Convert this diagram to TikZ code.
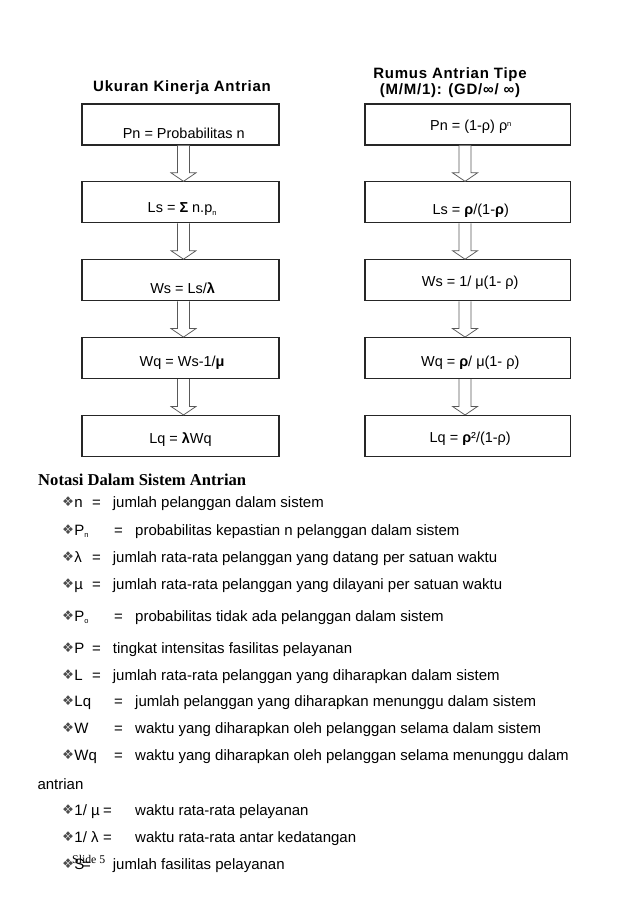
\documentclass[tikz,border=0pt]{standalone}
\usepackage{fontspec}
\setmainfont{Liberation Sans}
\newfontfamily\serifrm{Liberation Serif}
\newfontfamily\symfont{DejaVu Sans}
\usepackage{tikz}
\usetikzlibrary{positioning,calc}

\definecolor{bulgray}{gray}{0.3}
\newcommand{\bul}{\raisebox{0.2pt}{\symfont\fontsize{12.5}{12.5}\selectfont\color{bulgray}❖}\hspace{0.2pt}}
\newcommand{\lowsub}[1]{\raisebox{-2.5pt}{\fontsize{7}{7}\selectfont #1}}
\newcommand{\highsup}[1]{\raisebox{4.5pt}{\fontsize{7}{7}\selectfont #1}}
\newcommand{\boxtext}[3]{\raisebox{-#2}[\height][\depth]{\hspace*{#1}#3\hspace*{-#1}}}

\begin{document}
\begin{tikzpicture}[x=0.9335pt,y=-0.9335pt,
  box/.style={draw=black!85, line width=1pt, minimum height=38.3pt, inner sep=0pt,
    font=\fontsize{13.5}{15}\selectfont},
  lbox/.style={box, minimum width=183.9pt},
  rbox/.style={box, minimum width=191.4pt},
  blockarr/.style={draw=black!65, line width=0.7pt, fill=white},
  ttl/.style={inner sep=0pt, font=\bfseries\fontsize{14}{15}\selectfont\addfontfeature{LetterSpace=5}},
  term/.style={anchor=base west, inner sep=0pt, font=\fontsize{14}{16}\selectfont},
  slide/.style={anchor=base west, inner sep=0pt, font=\serifrm\fontsize{11}{11}\selectfont}]

  \useasboundingbox (0,0) rectangle (638,903);

  % left column
  \node[lbox] (l1) at (180.5,124.5) {\boxtext{3pt}{8pt}{Pn = Probabilitas n}};
  \node[lbox] (l2) [below=33.4pt of l1] {\boxtext{1.5pt}{6.5pt}{Ls = \textbf{Σ} n.p\lowsub{n}}};
  \node[lbox] (l3) [below=33.4pt of l2] {\boxtext{2pt}{7pt}{Ws = Ls/\textbf{λ}}};
  \node[lbox] (l4) [below=33.4pt of l3] {\boxtext{1.5pt}{4pt}{Wq = Ws-1/\textbf{μ}}};
  \node[lbox] (l5) [below=33.4pt of l4] {\boxtext{0pt}{3pt}{Lq = \textbf{λ}Wq}};

  % right column
  \node[rbox] (r1) [right=79.3pt of l1] {\boxtext{3pt}{2.5pt}{Pn = (1-ρ) ρ\highsup{n}}};
  \node[rbox] (r2) [below=33.4pt of r1] {\boxtext{3pt}{7.5pt}{Ls = \textbf{ρ}/(1-\textbf{ρ})}};
  \node[rbox] (r3) [below=33.4pt of r2] {\boxtext{2.5pt}{2.5pt}{Ws = 1/ μ(1- ρ)}};
  \node[rbox] (r4) [below=33.4pt of r3] {\boxtext{2.5pt}{4pt}{Wq = \textbf{ρ}/ μ(1- ρ)}};
  \node[rbox] (r5) [below=33.4pt of r4] {\boxtext{2.5pt}{3pt}{Lq = \textbf{ρ}²/(1-ρ)}};

  \node[ttl, anchor=base] (tl) at (182,92) {Ukuran Kinerja Antrian};
  \node[ttl, anchor=south, align=center] (tr) at (450,98) {Rumus Antrian Tipe\\(M/M/1): (GD/∞/ ∞)};

  \foreach \a/\b/\dx in {l1/l2/3, l2/l3/3, l3/l4/3, l4/l5/3,
                         r1/r2/-2.5, r2/r3/-2.5, r3/r4/-2.5, r4/r5/-2.5}
    \draw[blockarr] ($(\a.south)+(\dx-6,0)$) -- ($(\b.north)+(\dx-6,-8.5)$)
      -- ($(\b.north)+(\dx-12.5,-8.5)$) -- ($(\b.north)+(\dx,0)$)
      -- ($(\b.north)+(\dx+12.5,-8.5)$) -- ($(\b.north)+(\dx+6,-8.5)$)
      -- ($(\a.south)+(\dx+6,0)$);

  % notasi
  \node[anchor=base west, inner sep=0pt, font=\serifrm\bfseries\fontsize{15.5}{18}\selectfont] (hd) at (38,485) {Notasi Dalam Sistem Antrian};

  \node[term] (s1) at (62,507) {\bul n};
  \node[term] (e1) at (92,507) {=};
  \node[term] (k1) at (112.7,507) {jumlah pelanggan dalam sistem};
  \node[term] (s2) at (62,535) {\bul P\lowsub{n}};
  \node[term] (e2) at (114,535) {=};
  \node[term] (k2) at (135,535) {probabilitas kepastian n pelanggan dalam sistem};
  \node[term] (s3) at (62,562) {\bul λ};
  \node[term] (e3) at (92,562) {=};
  \node[term] (k3) at (112.7,562) {jumlah rata-rata pelanggan yang datang per satuan waktu};
  \node[term] (s4) at (62,589) {\bul µ};
  \node[term] (e4) at (92,589) {=};
  \node[term] (k4) at (112.7,589) {jumlah rata-rata pelanggan yang dilayani per satuan waktu};
  \node[term] (s5) at (62,621) {\bul P\lowsub{o}};
  \node[term] (e5) at (114,621) {=};
  \node[term] (k5) at (135,621) {probabilitas tidak ada pelanggan dalam sistem};
  \node[term] (s6) at (62,653) {\bul P};
  \node[term] (e6) at (92,653) {=};
  \node[term] (k6) at (112.7,653) {tingkat intensitas fasilitas pelayanan};
  \node[term] (s7) at (62,680) {\bul L};
  \node[term] (e7) at (92,680) {=};
  \node[term] (k7) at (112.7,680) {jumlah rata-rata pelanggan yang diharapkan dalam sistem};
  \node[term] (s8) at (62,706) {\bul Lq};
  \node[term] (e8) at (114,706) {=};
  \node[term] (k8) at (135,706) {jumlah pelanggan yang diharapkan menunggu dalam sistem};
  \node[term] (s9) at (62,733) {\bul W};
  \node[term] (e9) at (114,733) {=};
  \node[term] (k9) at (135,733) {waktu yang diharapkan oleh pelanggan selama dalam sistem};
  \node[term] (s10) at (62,760) {\bul Wq};
  \node[term] (e10) at (114,760) {=};
  \node[term] (k10) at (135,760) {waktu yang diharapkan oleh pelanggan selama menunggu dalam};
  \node[term] (k11) at (37.3,789) {antrian};
  \node[term] (s12) at (62,815) {\bul 1/ µ};
  \node[term] (e12) at (103,815) {=};
  \node[term] (k12) at (135,815) {waktu rata-rata pelayanan};
  \node[term] (s13) at (62,842) {\bul 1/ λ};
  \node[term] (e13) at (103,842) {=};
  \node[term] (k13) at (135,842) {waktu rata-rata antar kedatangan};
  \node[term] (s14) at (62,869) {\bul S};
  \node[term] (e14) at (82,869) {=};
  \node[term] (k14) at (112.7,869) {jumlah fasilitas pelayanan};
  \node[slide] (sl) at (72,863) {Slide 5};

\end{tikzpicture}
\end{document}
